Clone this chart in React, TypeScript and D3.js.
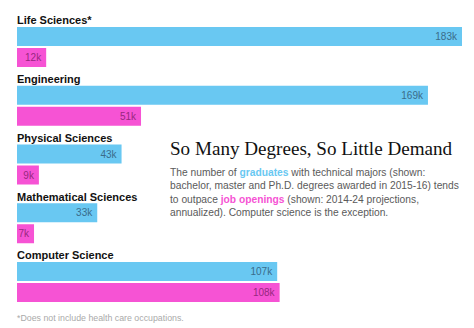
import React from "react";
import * as d3 from "d3";

const categories = ["Life Sciences*", "Engineering", "Physical Sciences", "Mathematical Sciences", "Computer Science"];
const graduates = [183, 169, 43, 33, 107];
const jobOpenings = [12, 51, 9, 7, 108];

const W = 474;
const H = 328;
const BLUE = "#69c8f2";
const PINK = "#f653d4";
const BLUE_TXT = "#3a6c8a";
const PINK_TXT = "#97287f";

export default function App() {
  const x = d3.scaleLinear().domain([0, 183]).range([17, 462]);
  const y = d3.scaleBand<string>().domain(categories).range([17, 17 + 5 * 58.75]).paddingInner(0).paddingOuter(0);
  const barH = 19;
  const sans = "'Liberation Sans', Arial, sans-serif";

  return (
    <svg width={W} height={H} style={{ position: "absolute", left: 0, top: 0, background: "#fff" }}>
      {categories.map((c, i) => {
        const y0 = y(c)!;
        const yb = y0 + 10;
        const yp = yb + barH + 2;
        return (
          <g key={c}>
            <text x={17} y={y0 + 7.3} fontFamily={sans} fontWeight="bold" fontSize={11} fill="#111">{c}</text>
            <rect x={x(0)} y={yb} width={x(graduates[i]) - x(0)} height={barH} fill={BLUE} />
            <text x={x(graduates[i]) - 5} y={yb + barH / 2} dy="0.35em" textAnchor="end" fontFamily={sans} fontSize={10} fill={BLUE_TXT}>{graduates[i]}k</text>
            <rect x={x(0)} y={yp} width={x(jobOpenings[i]) - x(0)} height={barH} fill={PINK} />
            <text x={x(jobOpenings[i]) - 5} y={yp + barH / 2} dy="0.35em" textAnchor="end" fontFamily={sans} fontSize={10} fill={PINK_TXT}>{jobOpenings[i]}k</text>
          </g>
        );
      })}
      <text x={170} y={155} fontFamily="'Liberation Serif', 'Times New Roman', serif" fontSize={19.1} fill="#111">So Many Degrees, So Little Demand</text>
      <g fontFamily={sans} fontSize={10.25} fill="#5a5a5a">
        <text x={170} y={175.5}>The number of <tspan fill={BLUE} fontWeight="bold">graduates</tspan> with technical majors (shown:</text>
        <text x={170} y={189}>bachelor, master and Ph.D. degrees awarded in 2015-16) tends</text>
        <text x={170} y={202.5}>to outpace <tspan fill={PINK} fontWeight="bold">job openings</tspan> (shown: 2014-24 projections,</text>
        <text x={170} y={216}>annualized). Computer science is the exception.</text>
      </g>
      <text x={17} y={321} fontFamily={sans} fontSize={8.8} fill="#aaa">*Does not include health care occupations.</text>
    </svg>
  );
}
